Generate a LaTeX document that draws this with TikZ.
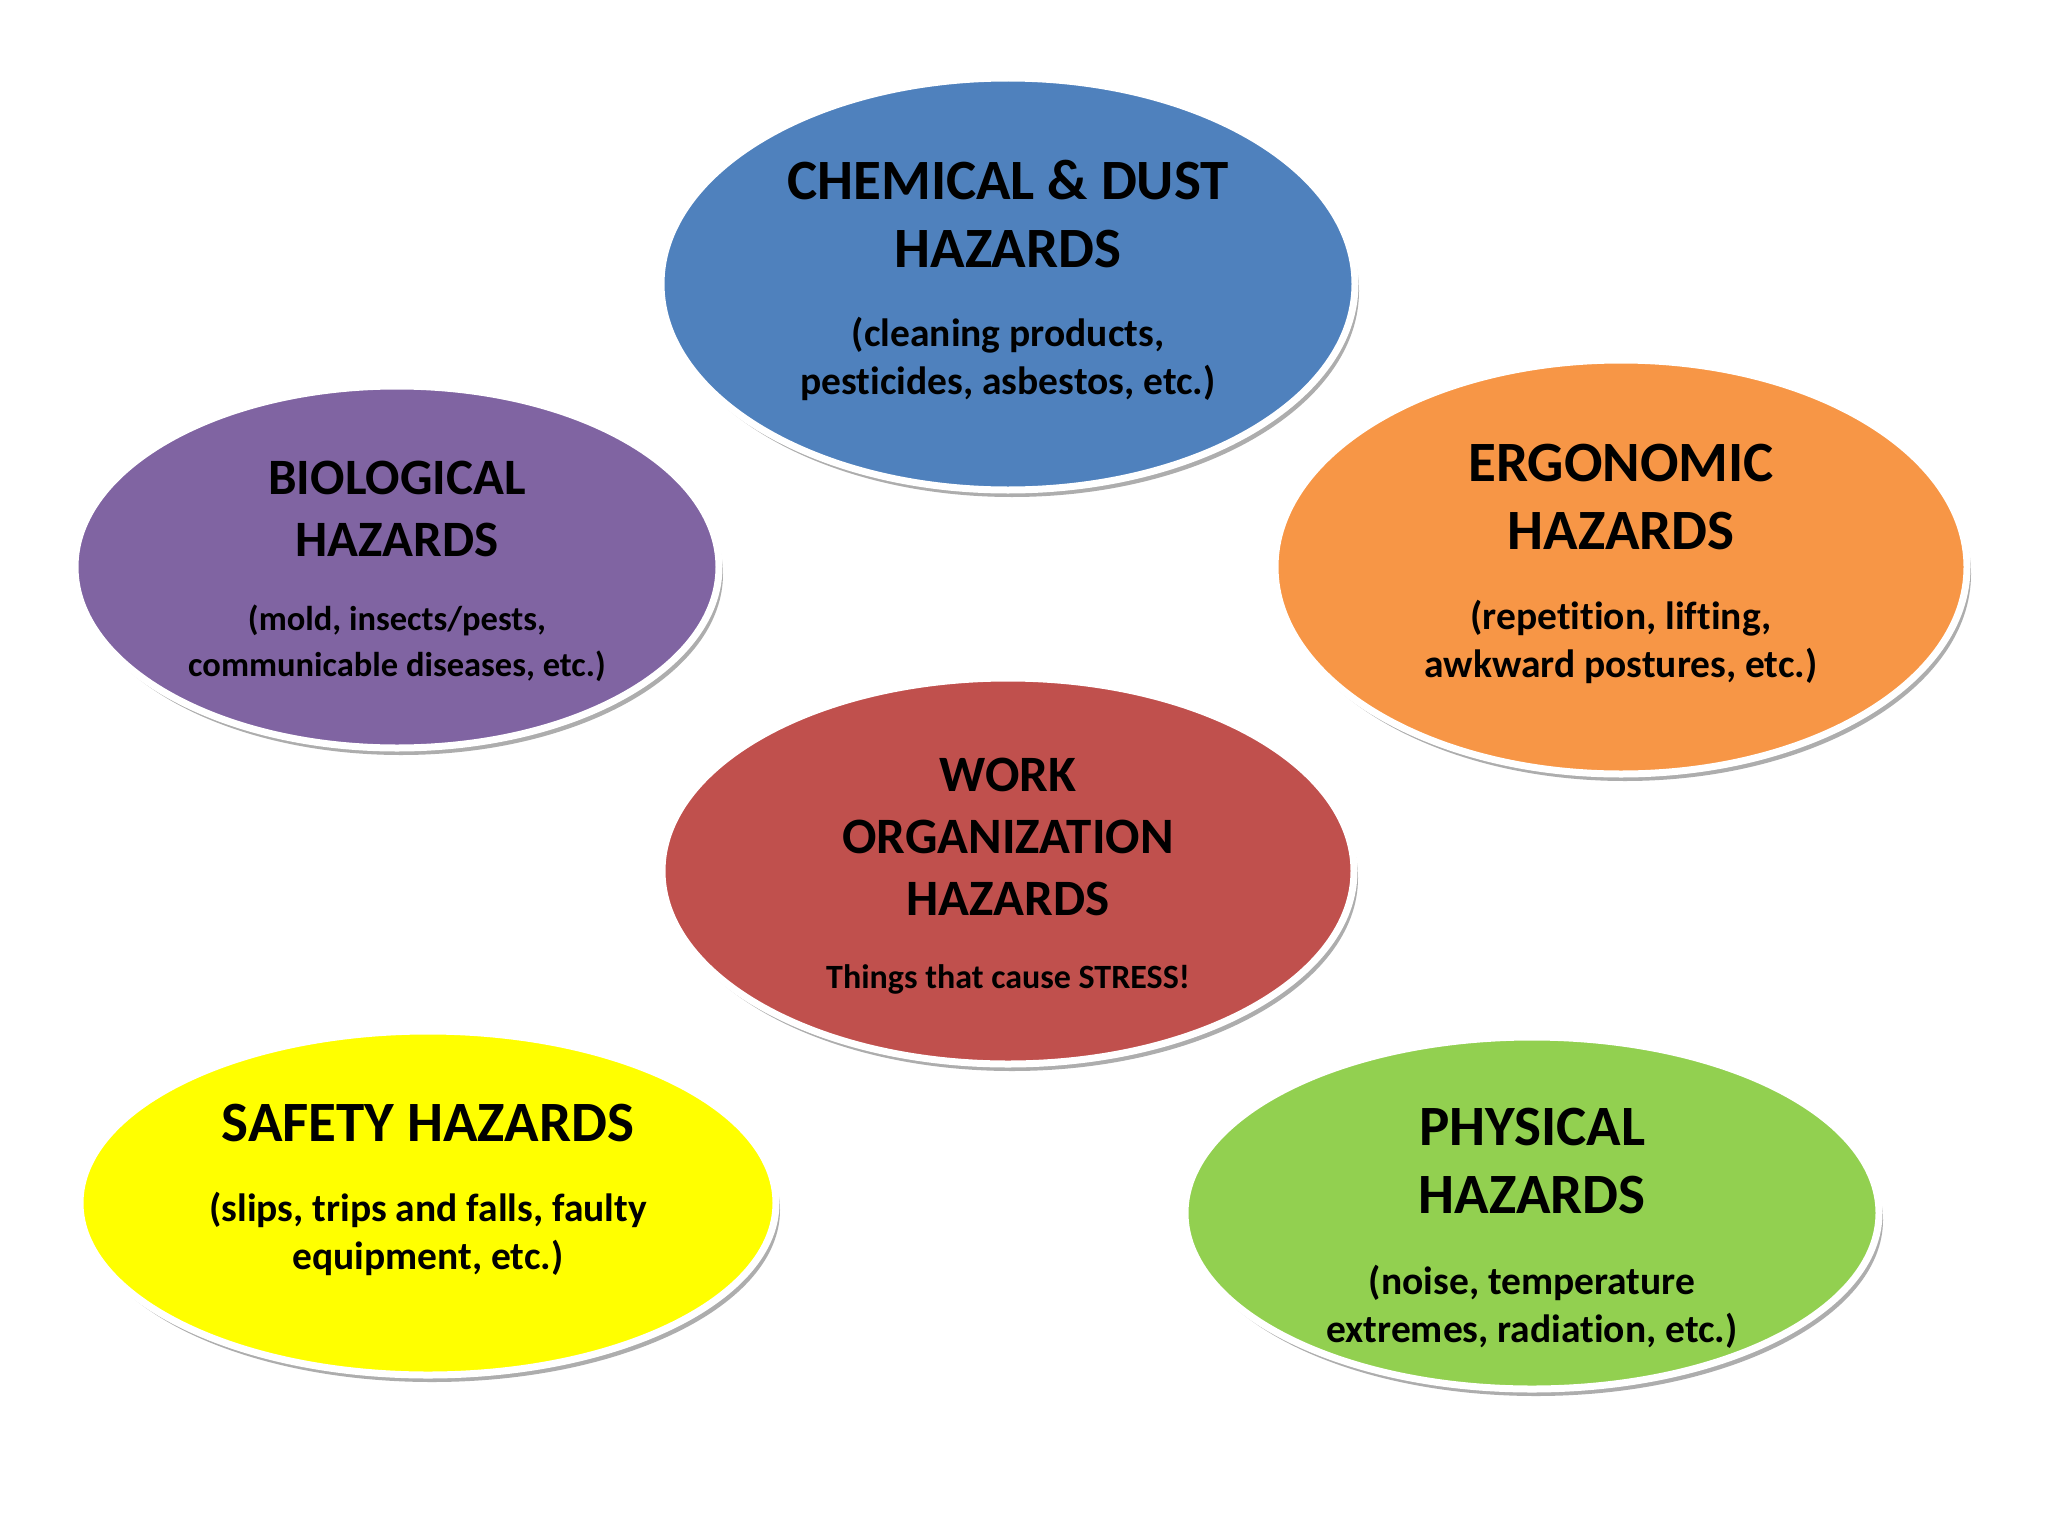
\documentclass[tikz,border=0pt]{standalone}
\usepackage{fontspec}
\setmainfont{Carlito}[Ligatures=NoCommon]
\usetikzlibrary{shapes.geometric,shadows}
\definecolor{cblue}{HTML}{4F81BD}
\definecolor{cpurple}{HTML}{8064A2}
\definecolor{corange}{HTML}{F79646}
\definecolor{cred}{HTML}{C0504D}
\definecolor{cyellow}{HTML}{FFFF00}
\definecolor{cgreen}{HTML}{92D050}
\begin{document}
\begin{tikzpicture}[x=1pt,y=-1pt,
  blob/.style={ellipse, draw=white, line width=7pt, inner sep=0pt,
    drop shadow={shadow xshift=4pt, shadow yshift=-7pt, fill=black!40, opacity=0.8}},
  ttl/.style={font=\bfseries\fontsize{57}{68}\selectfont, align=center, text=black},
  ttlsm/.style={font=\bfseries\fontsize{51}{62}\selectfont, align=center, text=black},
  sub/.style={font=\bfseries\fontsize{39.5}{48}\selectfont, align=center, text=black},
  subsm/.style={font=\bfseries\fontsize{34.5}{46}\selectfont, align=center, text=black},
  tiny/.style={font=\bfseries\fontsize{34}{40}\selectfont, align=center, text=black}]
\fill[white] (0,0) rectangle (2048,1536);
\useasboundingbox (0,0) rectangle (2048,1536);

% ellipses
\node[blob, fill=cblue, minimum width=694pt, minimum height=412pt] (chem) at (1008,284) {};
\node[blob, fill=cpurple, minimum width=644pt, minimum height=362pt] (bio) at (397,567) {};
\node[blob, fill=corange, minimum width=692pt, minimum height=414pt] (ergo) at (1621,567) {};
\node[blob, fill=cred, minimum width=692pt, minimum height=386pt] (work) at (1008,871) {};
\node[blob, fill=cyellow, minimum width=696pt, minimum height=344pt] (safe) at (428,1203) {};
\node[blob, fill=cgreen, minimum width=694pt, minimum height=352pt] (phys) at (1532,1213) {};

% texts
\node[ttl] (chemt) at (1008,214) {CHEMICAL \& DUST\\HAZARDS};
\node[sub] (chems) at (1008,359) {(cleaning products,\\pesticides, asbestos, etc.)};

\node[ttlsm] (biot) at (397,509) {BIOLOGICAL\\HAZARDS};
\node[subsm] (bios) at (397,643) {(mold, insects/pests,\\communicable diseases, etc.)};

\node[ttl] (ergot) at (1621,497) {ERGONOMIC\\HAZARDS};
\node[sub] (ergos) at (1621,642) {(repetition, lifting,\\awkward postures, etc.)};

\node[ttlsm] (workt) at (1008,837) {WORK\\ORGANIZATION\\HAZARDS};
\node[tiny] (works) at (1008,979) {Things that cause STRESS!};

\node[ttl] (safet) at (428,1123) {SAFETY HAZARDS};
\node[sub] (safes) at (428,1234) {(slips, trips and falls, faulty\\equipment, etc.)};

\node[ttl] (physt) at (1532,1161) {PHYSICAL\\HAZARDS};
\node[sub] (physs) at (1532,1307) {(noise, temperature\\extremes, radiation, etc.)};
\end{tikzpicture}
\end{document}
